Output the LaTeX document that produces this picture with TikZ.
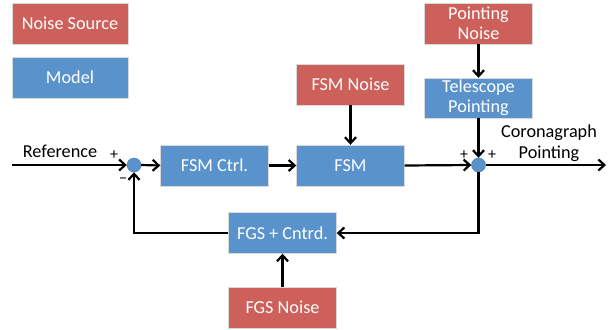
\documentclass[tikz,border=0pt]{standalone}
\usepackage{fontspec}
\setmainfont{Carlito}
\usetikzlibrary{arrows.meta}
\definecolor{noisered}{RGB}{205,96,90}
\definecolor{modelblue}{RGB}{90,146,204}
\tikzset{
  box/.style={draw=white!85!black, line width=0.4bp, text=white, minimum width=108bp, minimum height=41bp, inner sep=1bp, font=\fontsize{18.3}{20.5}\selectfont, align=center},
  noise/.style={box, fill=noisered},
  model/.style={box, fill=modelblue},
  sumj/.style={circle, fill=modelblue, draw=modelblue!80!black, line width=0.4bp, minimum size=14bp, inner sep=0pt},
  conn/.style={line width=2.2bp, -{Straight Barb[length=6bp,width=11bp]}},
  lbl/.style={font=\fontsize{18.3}{21}\selectfont, inner sep=0pt},
  sgn/.style={font=\fontsize{16}{16}\selectfont, inner sep=0pt}
}
\begin{document}
\begin{tikzpicture}[x=1bp,y=-1bp]
\useasboundingbox (0,0) rectangle (610,329);
\node[noise, minimum width=116bp] (ns) at (70,23.5) {Noise Source};
\node[model, minimum width=116bp] (md) at (70,77.5) {Model};
\node[noise] (fsmn) at (350.5,84.5) {FSM Noise};
\node[noise] (pn) at (478.5,23.5) {Pointing\\Noise};
\node[model, minimum height=40bp] (tp) at (478.5,98) {Telescope\\Pointing};
\node[model] (ctrl) at (214.5,165.5) {FSM Ctrl.};
\node[model] (fsm) at (350.5,165.5) {FSM};
\node[model] (fgs) at (282.5,233) {FGS + Cntrd.};
\node[noise] (fgsn) at (282.5,307.5) {FGS Noise};
\node[sumj] (j1) at (134,165) {};
\node[sumj] (j2) at (478.5,165) {};
\coordinate (ref) at (12,165);
\coordinate (out) at (606,165);
\node[lbl, anchor=base] (reflbl) at (60,157) {Reference};
\node[lbl, align=center] (corlbl) at (549,143) {Coronagraph\\Pointing};
\node[sgn] (p1) at (114,155) {+};
\node[sgn] (m1) at (123,181) {\textminus};
\node[sgn] (p2) at (464,155) {+};
\node[sgn] (p3) at (492,155) {+};
\draw[conn] (ref) -- (j1.west);
\draw[conn] (j1.east) -- (ctrl.west);
\draw[conn] (ctrl.east) -- (fsm.west);
\draw[conn] (fsmn.south) -- (fsm.north);
\draw[conn] (fsm.east) -- (j2.west);
\draw[conn] (pn.south) -- (tp.north);
\draw[conn] (tp.south) -- (j2.north);
\draw[conn] (j2.east) -- (out);
\draw[conn] (j2.south) |- (fgs.east);
\draw[conn] (fgs.west) -| (j1.south);
\draw[conn] (fgsn.north) -- (fgs.south);
\end{tikzpicture}
\end{document}
